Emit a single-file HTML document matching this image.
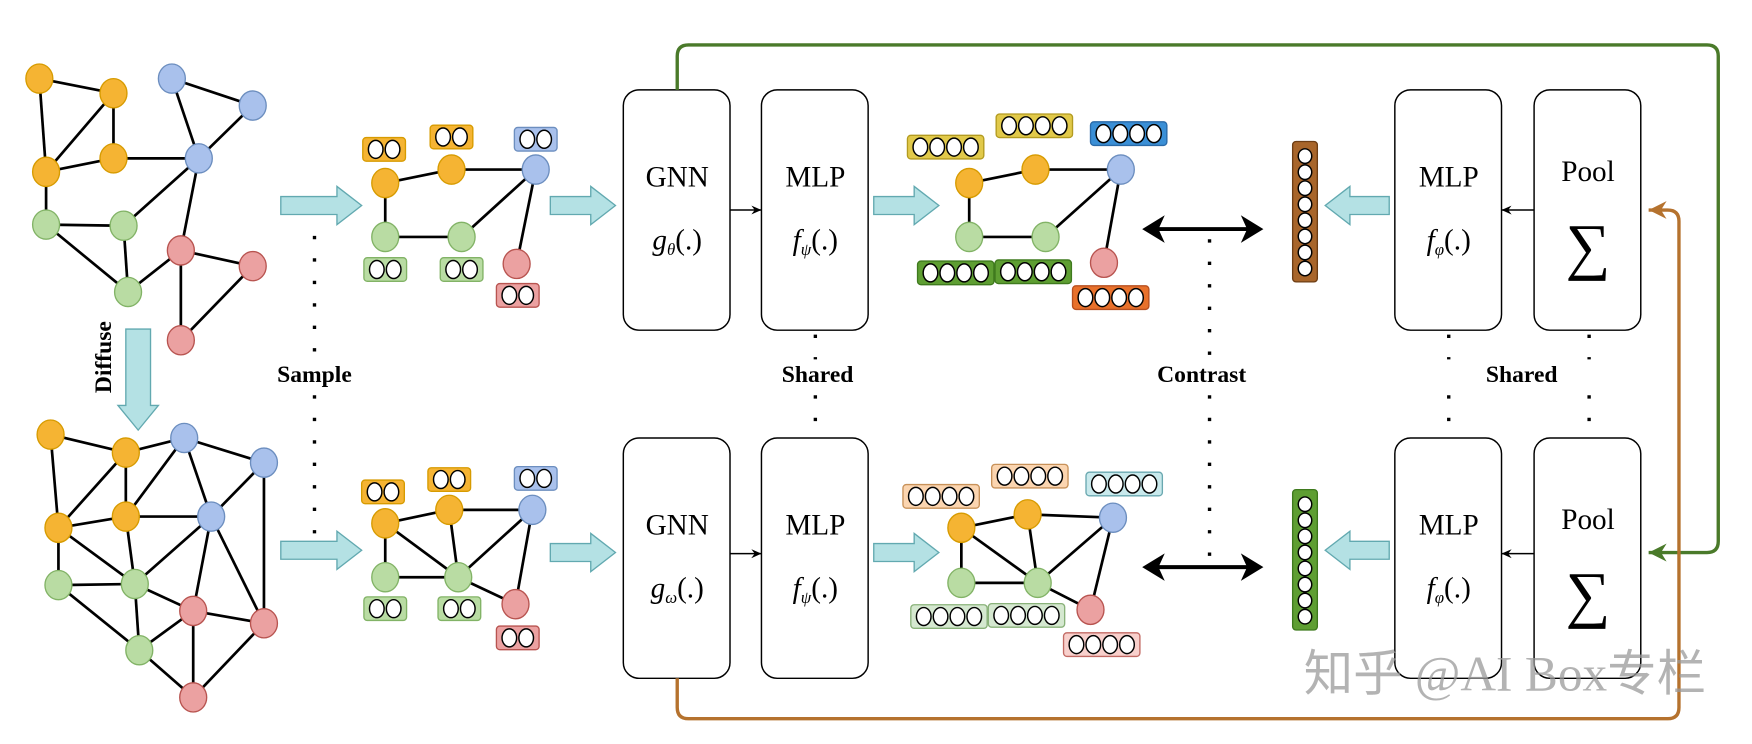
<!DOCTYPE html>
<html><head><meta charset="utf-8"><style>
html,body{margin:0;padding:0;background:#fff;}
svg{display:block;}
text{font-family:"Liberation Serif",serif;}
</style></head><body>
<svg id="s" width="1752" height="744" viewBox="0 0 1560 662.5" xmlns="http://www.w3.org/2000/svg">
<defs>
<marker id="ah" markerWidth="10" markerHeight="10" refX="9" refY="5" orient="auto" markerUnits="userSpaceOnUse"><path d="M0,1 L9,5 L0,9 L3,5 Z" fill="#000"/></marker>
<marker id="gh" markerWidth="18" markerHeight="18" refX="16" refY="9" orient="auto" markerUnits="userSpaceOnUse"><path d="M0,1 L16,9 L0,17 L5,9 Z" fill="#4a7a2a"/></marker>
<marker id="bh" markerWidth="18" markerHeight="18" refX="16" refY="9" orient="auto" markerUnits="userSpaceOnUse"><path d="M0,1 L16,9 L0,17 L5,9 Z" fill="#b5722e"/></marker>
</defs>
<g id="edges" stroke="#000" stroke-width="2.4"></g>
<g id="nodes"></g>
<g id="fig" fill="none" stroke="#000"></g>
<!-- feedback lines -->
<path d="M603,80 V50 Q603,40 613,40 H1520 Q1530,40 1530,50 V482 Q1530,492 1520,492 H1468" fill="none" stroke="#4a7a2a" stroke-width="3" marker-end="url(#gh)"/>
<path d="M603,604 V630 Q603,640 613,640 H1485 Q1495,640 1495,630 V197 Q1495,187 1485,187 H1468" fill="none" stroke="#b5722e" stroke-width="3" marker-end="url(#bh)"/>
<!-- labels -->
<g font-weight="bold" font-size="21" text-anchor="middle" fill="#000">
<text x="280" y="340">Sample</text>
<text x="728" y="340">Shared</text>
<text x="1070" y="340">Contrast</text>
<text x="1355" y="340">Shared</text>
<text transform="translate(99,318) rotate(-90)">Diffuse</text>
</g>
<g font-size="26" text-anchor="middle" fill="#000">
<text x="603" y="166">GNN</text>
<text x="726" y="166">MLP</text>
<text x="603" y="476">GNN</text>
<text x="726" y="476">MLP</text>
<text x="1290" y="166">MLP</text>
<text x="1414" y="161">Pool</text>
<text x="1290" y="476">MLP</text>
<text x="1414" y="471">Pool</text>
<g font-style="italic">
<text x="603" y="222">g<tspan font-size="15" dy="5">θ</tspan><tspan dy="-5" font-style="normal">(.)</tspan></text>
<text x="726" y="222">f<tspan font-size="15" dy="5">ψ</tspan><tspan dy="-5" font-style="normal">(.)</tspan></text>
<text x="603" y="532">g<tspan font-size="15" dy="5">ω</tspan><tspan dy="-5" font-style="normal">(.)</tspan></text>
<text x="726" y="532">f<tspan font-size="15" dy="5">ψ</tspan><tspan dy="-5" font-style="normal">(.)</tspan></text>
<text x="1290" y="222">f<tspan font-size="15" dy="5">φ</tspan><tspan dy="-5" font-style="normal">(.)</tspan></text>
<text x="1290" y="532">f<tspan font-size="15" dy="5">φ</tspan><tspan dy="-5" font-style="normal">(.)</tspan></text>
</g>
<text x="1414" y="238" font-size="56">∑</text>
<text x="1414" y="548" font-size="56">∑</text>
</g>
<text x="1340" y="615" font-size="44" text-anchor="middle" fill="#9a9a9a" fill-opacity="0.75" font-family="'Liberation Sans','Noto Sans CJK SC',sans-serif">知乎 @AI Box专栏</text>
</svg>
<script>
const NS="http://www.w3.org/2000/svg";
const E=document.getElementById('edges'),N=document.getElementById('nodes'),F=document.getElementById('fig');
function el(p,t,a){const e=document.createElementNS(NS,t);for(const k in a)e.setAttribute(k,a[k]);p.appendChild(e);return e;}
const C={o:['#f5b433','#d79b00'],b:['#a9c1ec','#6c8ebf'],g:['#b9dca3','#82b366'],r:['#eba1a1','#b85450']};
function graph(nodes,edges){
 for(const e of edges.split(' ')){const a=nodes[e[0]],b=nodes[e[1]];el(E,'line',{x1:a[0],y1:a[1],x2:b[0],y2:b[1]});}
 for(const k in nodes){const n=nodes[k];el(N,'ellipse',{cx:n[0],cy:n[1],rx:12,ry:13,fill:C[n[2]][0],stroke:C[n[2]][1],'stroke-width':1.2});}
}
graph({A:[35,70,'o'],B:[101,83,'o'],C:[101,141,'o'],D:[41,153,'o'],E:[153,70,'b'],F:[225,94,'b'],G:[177,141,'b'],H:[41,200,'g'],I:[110,201,'g'],J:[114,260,'g'],K:[161,223,'r'],L:[225,237,'r'],M:[161,303,'r']},
 "AB AD BD BC CD CG EF EG FG DH HI HJ IJ IG GK KL KM LM JK");
graph({a:[45,387,'o'],b:[112,403,'o'],c:[112,460,'o'],d:[52,470,'o'],e:[164,390,'b'],f:[235,412,'b'],g:[188,460,'b'],h:[52,521,'g'],i:[120,520,'g'],j:[124,579,'g'],k:[172,544,'r'],l:[235,555,'r'],m:[172,621,'r']},
 "ab ad be bd bc ec eg ef fl fg dc cg dh di ci hi hj ig gk gl ik ij kl kj km jm lm");
graph({p:[343,163,'o'],q:[402,151,'o'],r:[477,151,'b'],s:[343,211,'g'],t:[411,211,'g'],u:[460,235,'r']},"pq qr ps st tr ru");
graph({p:[343,466,'o'],q:[400,454,'o'],r:[474,454,'b'],s:[343,514,'g'],t:[408,514,'g'],u:[459,538,'r']},"pq qr ps st pt qt tr tu ru");
graph({p:[863,163,'o'],q:[922,151,'o'],r:[998,151,'b'],s:[863,211,'g'],t:[931,211,'g'],u:[983,234,'r']},"pq qr ps st tr ru");
graph({p:[856,470,'o'],q:[915,458,'o'],r:[991,461,'b'],s:[856,519,'g'],t:[924,519,'g'],u:[971,543,'r']},"pq qr ps st pt qt tr tu ru");
// feature boxes
function fbox(cx,cy,n,fill,st){const w=n*15+8,h=21;el(N,'rect',{x:cx-w/2,y:cy-h/2,width:w,height:h,rx:3,fill:fill,stroke:st,'stroke-width':1.2});
 for(let i=0;i<n;i++)el(N,'ellipse',{cx:cx-w/2+11.5+i*15,cy:cy,rx:6.5,ry:8,fill:'#fff',stroke:'#000','stroke-width':1.3});}
const O=['#f5b433','#d79b00'],B=['#a9c1ec','#6c8ebf'],G=['#b9dca3','#82b366'],R=['#eba1a1','#b85450'];
[[342,133,O],[402,122,O],[477,124,B],[343,240,G],[411,240,G],[461,263,R],[341,438,O],[400,427,O],[477,426,B],[343,542,G],[409,542,G],[461,568,R]].forEach(a=>fbox(a[0],a[1],2,a[2][0],a[2][1]));
[[842,131,'#e1c94a','#b39b20'],[921,112,'#e1c94a','#b39b20'],[1005,119,'#3a8fd6','#2a6aa8'],[851,243,'#5e9e32','#3f7a1e'],[920,242,'#5e9e32','#3f7a1e'],[989,265,'#e8712b','#b85020'],
 [838,442,'#fbd5b0','#c8925a'],[917,424,'#fbd5b0','#c8925a'],[1001,431,'#c9e9ec','#6aa8b0'],[845,549,'#d5e8d0','#8ab27a'],[914,548,'#d5e8d0','#8ab27a'],[981,574,'#f8d0cc','#c26a64']].forEach(a=>fbox(a[0],a[1],4,a[2],a[3]));
// vertical vectors
function vvec(x,y,fill,st){el(N,'rect',{x:x-11,y:y,width:22,height:125,rx:3,fill:fill,stroke:st,'stroke-width':1.2});
 for(let i=0;i<8;i++)el(N,'ellipse',{cx:x,cy:y+13+i*14.3,rx:6,ry:6.5,fill:'#fff',stroke:'#000','stroke-width':1.3});}
vvec(1162,126,'#a8652a','#6e3e15');vvec(1162,436,'#5e9e32','#3f7a1e');
// block arrows
function barrow(x1,x2,y,vert){const sh=8,hh=17,hl=22;let d;
 if(!vert){const dir=Math.sign(x2-x1),xb=x2-dir*hl;d=`M${x1},${y-sh} L${xb},${y-sh} L${xb},${y-hh} L${x2},${y} L${xb},${y+hh} L${xb},${y+sh} L${x1},${y+sh} Z`;}
 else{const xx=y,yb=x2-hl;d=`M${xx-11},${x1} L${xx+11},${x1} L${xx+11},${yb} L${xx+18},${yb} L${xx},${x2} L${xx-18},${yb} L${xx-11},${yb} Z`;}
 el(N,'path',{d:d,fill:'#b4e1e4',stroke:'#62a9b0','stroke-width':1.2});}
barrow(250,322,183);barrow(250,322,490);barrow(490,548,183);barrow(490,548,492);barrow(778,836,183);barrow(778,836,492);
barrow(1237,1180,183);barrow(1237,1180,490);barrow(293,383,123,true);
// boxes
[[555,80],[678,80],[1242,80],[1366,80],[555,390],[678,390],[1242,390],[1366,390]].forEach(b=>el(F,'rect',{x:b[0],y:b[1],width:95,height:214,rx:14,fill:'#fff',stroke:'#000','stroke-width':1.3}));
// small arrows
[[650,678,187],[650,678,493]].forEach(a=>el(F,'line',{x1:a[0],y1:a[2],x2:a[1],y2:a[2],'stroke-width':1.3,'marker-end':'url(#ah)'}));
[[1366,1337,187],[1366,1337,493]].forEach(a=>el(F,'line',{x1:a[0],y1:a[2],x2:a[1],y2:a[2],'stroke-width':1.3,'marker-end':'url(#ah)'}));
// dotted lines
function dots(x,y1,y2){el(F,'line',{x1:x,y1:y1,x2:x,y2:y2,'stroke-width':3,'stroke-dasharray':'3,17'});}
dots(280,210,320);dots(280,352,480);dots(726,298,320);dots(726,352,390);dots(1077,213,320);dots(1077,352,500);
dots(1290,298,320);dots(1290,352,390);dots(1415,298,320);dots(1415,352,390);
// double arrows
function dbl(y){el(F,'line',{x1:1030,y1:y,x2:1112,y2:y,'stroke-width':3.5});
 el(F,'path',{d:`M1018,${y} L1036,${y-11} L1031,${y} L1036,${y+11} Z`,fill:'#000'});
 el(F,'path',{d:`M1124,${y} L1106,${y-11} L1111,${y} L1106,${y+11} Z`,fill:'#000'});}
dbl(204);dbl(505);
</script>
</body></html>
